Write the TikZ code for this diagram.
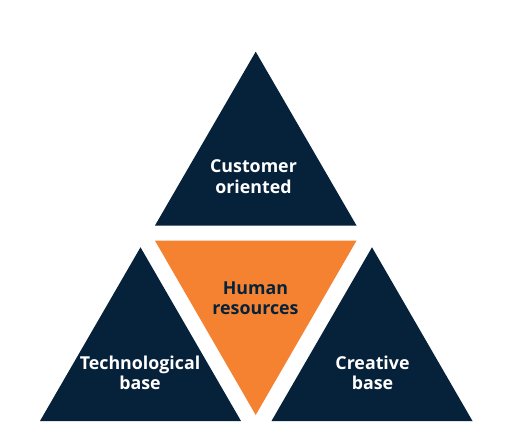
\documentclass[tikz,border=0pt]{standalone}
\usepackage{fontspec}
\setmainfont{Open Sans}
\definecolor{navy}{HTML}{06213A}
\definecolor{orangeA}{HTML}{F58230}
\begin{document}
\begin{tikzpicture}[x=1pt,y=-1pt,
  lbl/.style={font=\bfseries\fontsize{17.8}{20.5}\selectfont, align=center, inner sep=0pt},
  tri/.style={fill=navy, draw=none}]
\useasboundingbox (0,0) rectangle (512,442);
\fill[white] (0,0) rectangle (512,442);
\coordinate (tA) at (255.7,51.7);
\coordinate (tL) at (155,225.5);
\coordinate (tR) at (356.5,225.5);
\fill[tri] (tA) -- (tL) -- (tR) -- cycle;
\coordinate (lA) at (140.5,247.3);
\coordinate (lL) at (40,421);
\coordinate (lR) at (241,421);
\fill[tri] (lA) -- (lL) -- (lR) -- cycle;
\coordinate (rA) at (372,247.3);
\coordinate (rL) at (271.5,421);
\coordinate (rR) at (472.5,421);
\fill[tri] (rA) -- (rL) -- (rR) -- cycle;
\coordinate (oL) at (155,240.7);
\coordinate (oR) at (356.5,240.7);
\coordinate (oB) at (255.7,415);
\fill[orangeA] (oL) -- (oR) -- (oB) -- cycle;
\node[lbl, text=white] (cust) at (253.5,176.5) {Customer\\oriented};
\node[lbl, text=navy] (hum) at (255.5,298) {Human\\resources};
\node[lbl, text=white] (tech) at (140,373) {Technological\\base};
\node[lbl, text=white] (crea) at (372.5,373) {Creative\\base};
\end{tikzpicture}
\end{document}
